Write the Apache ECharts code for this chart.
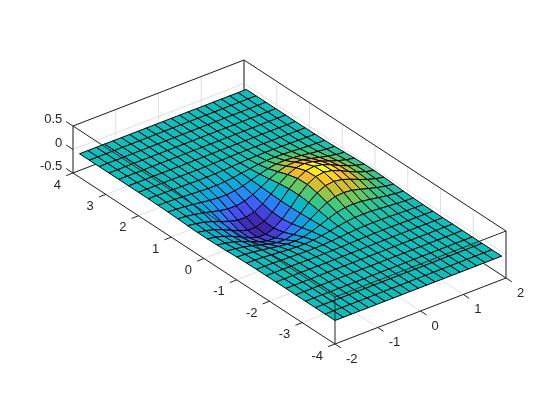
<!DOCTYPE html>
<html>
<head>
<meta charset="utf-8">
<style>html,body{margin:0;padding:0;background:#fff}#c{width:560px;height:420px}</style>
<script src="https://cdn.jsdelivr.net/npm/echarts@6/dist/echarts.min.js"></script>
</head>
<body>
<div id="c"></div>
<script>
var xValues = [-2,-1.805,-1.61,-1.415,-1.22,-1.025,-0.83,-0.635,-0.44,-0.245,-0.05,0.145,0.34,0.535,0.73,0.925,1.12,1.315,1.51,1.705,1.9];
var yValues = [-4,-3.7,-3.4,-3.1,-2.8,-2.5,-2.2,-1.9,-1.6,-1.3,-1,-0.7,-0.4,-0.1,0.2,0.5,0.8,1.1,1.4,1.7,2,2.3,2.6,2.9,3.2,3.5,3.8];
var zRows = [
[0,0,0,0,0,0,0,0,0,0,0,0,0,0,0,0,0,0,0,0,0],
[0,0,0,0,0,0,0,0,0,0,0,0,0,0,0,0,0,0,0,0,0],
[0,0,0,0,0,0,0,0,0,0,0,0,0,0,0,0,0,0,0,0,0],
[0,0,0,0,0,0,0,0,0,0,0,0,0,0,0,0,0,0,0,0,0],
[0,0,0,0,0,0,0,0,0,0,0,0,0,0,0,0,0,0,0,0,0],
[0,0,0,0,-0.001,-0.001,-0.001,-0.001,-0.001,0,0,0,0.001,0.001,0.001,0.001,0.001,0,0,0,0],
[0,-0.001,-0.001,-0.002,-0.002,-0.003,-0.003,-0.003,-0.003,-0.002,0,0.001,0.002,0.003,0.003,0.003,0.003,0.002,0.001,0.001,0],
[-0.001,-0.002,-0.003,-0.005,-0.007,-0.01,-0.011,-0.011,-0.01,-0.006,-0.001,0.004,0.008,0.011,0.012,0.011,0.009,0.006,0.004,0.003,0.001],
[-0.003,-0.005,-0.009,-0.015,-0.021,-0.028,-0.032,-0.033,-0.028,-0.018,-0.004,0.011,0.023,0.031,0.033,0.03,0.025,0.018,0.012,0.007,0.004],
[-0.007,-0.013,-0.022,-0.035,-0.051,-0.066,-0.077,-0.078,-0.067,-0.043,-0.009,0.026,0.056,0.074,0.079,0.073,0.059,0.043,0.029,0.017,0.009],
[-0.014,-0.026,-0.045,-0.07,-0.101,-0.132,-0.153,-0.156,-0.134,-0.085,-0.018,0.052,0.111,0.148,0.157,0.145,0.118,0.086,0.057,0.034,0.019],
[-0.023,-0.043,-0.074,-0.117,-0.168,-0.219,-0.255,-0.26,-0.222,-0.142,-0.031,0.087,0.186,0.246,0.262,0.241,0.196,0.143,0.095,0.057,0.031],
[-0.032,-0.06,-0.103,-0.163,-0.234,-0.305,-0.355,-0.361,-0.309,-0.197,-0.043,0.121,0.258,0.343,0.365,0.335,0.273,0.199,0.132,0.079,0.043],
[-0.037,-0.069,-0.12,-0.189,-0.272,-0.354,-0.413,-0.42,-0.359,-0.229,-0.05,0.141,0.3,0.398,0.424,0.389,0.317,0.231,0.153,0.092,0.05],
[-0.036,-0.067,-0.116,-0.184,-0.264,-0.344,-0.401,-0.407,-0.349,-0.222,-0.048,0.136,0.291,0.386,0.411,0.378,0.307,0.224,0.149,0.089,0.049],
[-0.029,-0.055,-0.094,-0.149,-0.214,-0.279,-0.325,-0.33,-0.283,-0.18,-0.039,0.111,0.236,0.313,0.333,0.306,0.249,0.181,0.121,0.072,0.04],
[-0.02,-0.037,-0.064,-0.101,-0.145,-0.189,-0.22,-0.224,-0.191,-0.122,-0.026,0.075,0.16,0.212,0.226,0.207,0.169,0.123,0.082,0.049,0.027],
[-0.011,-0.021,-0.036,-0.057,-0.082,-0.107,-0.124,-0.126,-0.108,-0.069,-0.015,0.042,0.09,0.12,0.128,0.117,0.095,0.069,0.046,0.028,0.015],
[-0.005,-0.01,-0.017,-0.027,-0.039,-0.05,-0.059,-0.06,-0.051,-0.033,-0.007,0.02,0.043,0.057,0.06,0.055,0.045,0.033,0.022,0.013,0.007],
[-0.002,-0.004,-0.007,-0.011,-0.015,-0.02,-0.023,-0.024,-0.02,-0.013,-0.003,0.008,0.017,0.022,0.024,0.022,0.018,0.013,0.009,0.005,0.003],
[-0.001,-0.001,-0.002,-0.003,-0.005,-0.007,-0.008,-0.008,-0.007,-0.004,-0.001,0.003,0.006,0.007,0.008,0.007,0.006,0.004,0.003,0.002,0.001],
[0,0,-0.001,-0.001,-0.001,-0.002,-0.002,-0.002,-0.002,-0.001,0,0.001,0.002,0.002,0.002,0.002,0.002,0.001,0.001,0,0],
[0,0,0,0,0,0,0,0,0,0,0,0,0,0,0,0,0,0,0,0,0],
[0,0,0,0,0,0,0,0,0,0,0,0,0,0,0,0,0,0,0,0,0],
[0,0,0,0,0,0,0,0,0,0,0,0,0,0,0,0,0,0,0,0,0],
[0,0,0,0,0,0,0,0,0,0,0,0,0,0,0,0,0,0,0,0,0],
[0,0,0,0,0,0,0,0,0,0,0,0,0,0,0,0,0,0,0,0,0]
];
var xTicks = [-2,-1,0,1,2];
var yTicks = [-4,-3,-2,-1,0,1,2,3,4];
var zTicks = [-0.5,0,0.5];
var xTickLabels = ['-2','-1','0','1','2'];
var yTickLabels = ['-4','-3','-2','-1','0','1','2','3','4'];
var zTickLabels = ['-0.5','0','0.5'];

var X0=-2,X1=2,Y0=-4,Y1=4,Z0=-0.5,Z1=0.5;
var TEXT='#262626', GRID='#e0e0e0', BOX='#262626';

// orthographic view: screen units per data unit
function project(x,y,z){
  return [335+(x-X0)*42.75-(y-Y0)*32.75, 344-(x-X0)*16.5-(y-Y0)*21.375-(z-Z0)*47];
}
var parula=[[0,62,38,168],[0.13,71,84,250],[0.25,38,135,245],[0.37,12,170,220],[0.5,16,190,186],[0.63,70,200,125],[0.75,180,195,50],[0.875,252,185,50],[1,249,251,20]];
var cLo=Math.min.apply(null,zRows.map(function(r){return Math.min.apply(null,r);}));
var cHi=Math.max.apply(null,zRows.map(function(r){return Math.max.apply(null,r);}));
function colorOf(z){
  var t=(z-cLo)/(cHi-cLo);
  for(var k=1;k<parula.length;k++){
    if(t<=parula[k][0]){
      var a=parula[k-1],b=parula[k],f=(t-a[0])/(b[0]-a[0]);
      return 'rgb('+[1,2,3].map(function(c){return Math.round(a[c]+(b[c]-a[c])*f);}).join(',')+')';
    }
  }
  return 'rgb(249,251,20)';
}

var cells=[];
for(var j=yValues.length-2;j>=0;j--){for(var i=xValues.length-2;i>=0;i--){cells.push([i,j]);}}

var backLines=[],tickLines=[];
xTicks.forEach(function(t){
  backLines.push([t,Y0,Z0,t,Y1,Z0]);backLines.push([t,Y1,Z0,t,Y1,Z1]);
  tickLines.push([t,Y0,Z0,t,Y0-0.18,Z0]);
});
yTicks.forEach(function(t){
  backLines.push([X0,t,Z0,X1,t,Z0]);backLines.push([X1,t,Z0,X1,t,Z1]);
  tickLines.push([X0,t,Z0,X0-0.16,t,Z0]);
});
zTicks.forEach(function(t){
  backLines.push([X0,Y1,t,X1,Y1,t]);backLines.push([X1,Y1,t,X1,Y0,t]);
  tickLines.push([X0,Y1,t,X0,Y1+0.21,t]);
});
var boxBack=[[X1,Y1,Z0,X1,Y1,Z1],[X0,Y1,Z0,X1,Y1,Z0],[X1,Y1,Z0,X1,Y0,Z0],[X0,Y1,Z1,X1,Y1,Z1],[X1,Y1,Z1,X1,Y0,Z1],[X0,Y1,Z0,X0,Y1,Z1],[X1,Y0,Z0,X1,Y0,Z1]];
var boxFront=[[X0,Y0,Z0,X0,Y0,Z1],[X0,Y0,Z1,X1,Y0,Z1],[X0,Y0,Z1,X0,Y1,Z1],[X0,Y0,Z0,X1,Y0,Z0],[X0,Y0,Z0,X0,Y1,Z0]];

function lineSeries(data,color,z,width){
  return {type:'custom',coordinateSystem:'cartesian2d',silent:true,animation:false,clip:false,z:z,
    data:data,
    renderItem:function(p,api){
      var a=api.coord(project(api.value(0),api.value(1),api.value(2)));
      var b=api.coord(project(api.value(3),api.value(4),api.value(5)));
      return {type:'line',shape:{x1:a[0],y1:a[1],x2:b[0],y2:b[1]},style:{stroke:color,lineWidth:width,fill:null}};
    }};
}
var labelData=[];
xTicks.forEach(function(t,k){labelData.push([t,Y0,Z0,11,15,0,xTickLabels[k]]);});
yTicks.forEach(function(t,k){labelData.push([X0,t,Z0,-12,12,1,yTickLabels[k]]);});
zTicks.forEach(function(t,k){labelData.push([X0,Y1,t,-10.7,-6.5,1,zTickLabels[k]]);});

var chart=echarts.init(document.getElementById('c'),null,{renderer:'canvas'});
chart.setOption({
  animation:false,
  backgroundColor:'#fff',
  grid:{left:0,right:0,top:0,bottom:0},
  xAxis:{type:'value',min:0,max:560,show:false},
  yAxis:{type:'value',min:0,max:420,inverse:true,show:false},
  series:[
    lineSeries(backLines,GRID,1,1),
    lineSeries(boxBack,BOX,2,1),
    {type:'custom',coordinateSystem:'cartesian2d',silent:true,animation:false,clip:false,z:3,
      data:cells,
      renderItem:function(p,api){
        var i=api.value(0),j=api.value(1);
        var pts=[[i,j],[i+1,j],[i+1,j+1],[i,j+1]].map(function(c){
          return api.coord(project(xValues[c[0]],yValues[c[1]],zRows[c[1]][c[0]]));
        });
        return {type:'polygon',shape:{points:pts},style:{fill:colorOf(zRows[j][i]),stroke:'#000',lineWidth:1}};
      }},
    lineSeries(boxFront,BOX,4,1),
    lineSeries(tickLines,BOX,4,1),
    {type:'custom',coordinateSystem:'cartesian2d',silent:true,animation:false,clip:false,z:5,
      data:labelData,
      dimensions:['x','y','z','dx','dy','al',{name:'t',type:'ordinal'}],
      renderItem:function(p,api){
        var d=labelData[p.dataIndex];
        var c=api.coord(project(d[0],d[1],d[2]));
        return {type:'text',style:{x:c[0]+d[3],y:c[1]+d[4],text:d[6],fill:TEXT,
          font:'13px "Liberation Sans", Arial, sans-serif',textAlign:d[5]?'right':'left',textVerticalAlign:'middle'}};
      }}
  ]
});
</script>
</body>
</html>
